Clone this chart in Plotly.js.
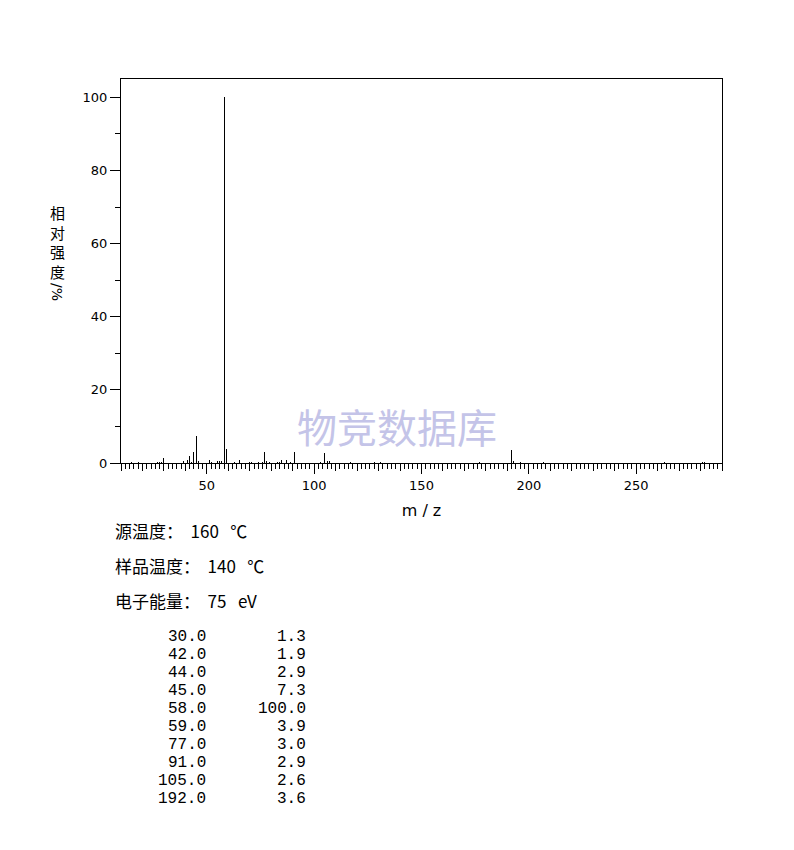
<!DOCTYPE html>
<html>
<head>
<meta charset="utf-8">
<script src="https://cdn.plot.ly/plotly-3.0.1.min.js"></script>
<style>html,body{margin:0;padding:0;background:#fff;}#chart{width:794px;height:850px;}
#chart path.js-line{shape-rendering:crispEdges;}</style>
</head>
<body>
<div id="chart"></div>
<script>
// Peak list (m/z and relative intensity %)
const peakMz = [15,18,27,28,29,30,39,41,42,43,44,45,46,51,52,55,56,57,58,59,63,65,70,71,74,76,77,78,79,83,84,85,87,89,91,103,105,106,107,117,128,131,177,192,193,196,207,263,281,282];
const peakInt = [0.3,0.3,0.3,0.3,0.3,1.3,0.5,0.7,1.9,0.4,2.9,7.3,0.5,0.7,0.4,0.5,0.5,0.5,100,3.9,0.3,0.7,0.3,0.4,0.3,0.3,3.0,0.5,0.3,0.3,0.4,0.8,0.8,0.3,2.9,0.3,2.6,0.5,0.5,0.3,0.3,0.3,0.3,3.6,0.5,0.3,0.3,0.3,0.3,0.3];
// Listed table
const tableMz = ["30.0","42.0","44.0","45.0","58.0","59.0","77.0","91.0","105.0","192.0"];
const tableInt = ["1.3","1.9","2.9","7.3","100.0","3.9","3.0","2.9","2.6","3.6"];
// Condition lines
const infoLines = ["源温度：&nbsp;&nbsp;160&nbsp;&nbsp;&nbsp;℃","样品温度：&nbsp;&nbsp;140&nbsp;&nbsp;&nbsp;℃","电子能量：&nbsp;&nbsp;75&nbsp;&nbsp;&nbsp;eV"];
const xLabelVals = [50,100,150,200,250];
const yTickVals = [0,20,40,60,80,100];

// Build stick segments
const sx = [], sy = [];
peakMz.forEach((m,i)=>{ sx.push(m,m,null); sy.push(0,peakInt[i],null); });

const W = 794, H = 850, L = 121, R = 722, T = 79, B = 463;
const px = x => (x - L) / (R - L);
const py = y => (B - y) / (B - T);

const annotations = [];
annotations.push({xref:'paper',yref:'paper',x:px(397),y:py(426),text:'物竞数据库',showarrow:false,
  font:{family:'Noto Sans CJK SC',size:40,color:'rgb(196,196,232)'},xanchor:'center',yanchor:'middle'});
annotations.push({xref:'paper',yref:'paper',x:px(57),y:py(242),text:'相<br>对<br>强<br>度',showarrow:false,
  font:{family:'Noto Sans CJK SC',size:15,color:'#000'},xanchor:'center',yanchor:'middle'});
annotations.push({xref:'paper',yref:'paper',x:px(57),y:py(292),text:'/%',textangle:90,showarrow:false,
  font:{family:'DejaVu Sans',size:14,color:'#000'},xanchor:'center',yanchor:'middle'});
infoLines.forEach((t,i)=>{
  annotations.push({xref:'paper',yref:'paper',x:px(113),y:py(530+35*i),text:t,showarrow:false,
    font:{family:'Noto Sans CJK SC',size:17,color:'#000'},xanchor:'left',yanchor:'middle'});
});
tableMz.forEach((t,i)=>{
  annotations.push({xref:'paper',yref:'paper',x:px(208),y:py(637+18*i),text:t,showarrow:false,
    font:{family:'Liberation Mono',size:16,color:'#000'},xanchor:'right',yanchor:'middle'});
  annotations.push({xref:'paper',yref:'paper',x:px(308),y:py(637+18*i),text:tableInt[i],showarrow:false,
    font:{family:'Liberation Mono',size:16,color:'#000'},xanchor:'right',yanchor:'middle'});
});

const data = [
  {x:sx,y:sy,type:'scatter',mode:'lines',line:{color:'#000',width:1},hoverinfo:'skip',showlegend:false},
  {x:[10],y:[0],xaxis:'x2',type:'scatter',mode:'markers',marker:{opacity:0},hoverinfo:'skip',showlegend:false}
];

const layout = {
  width:W,height:H,
  margin:{l:L,r:W-R,t:T,b:H-B},
  paper_bgcolor:'#fff',plot_bgcolor:'#fff',
  showlegend:false,
  xaxis:{range:[10,290],showgrid:false,zeroline:false,showline:true,mirror:true,linecolor:'#000',linewidth:1,
    tickmode:'linear',tick0:0,dtick:10,ticks:'outside',ticklen:7,tickcolor:'#000',showticklabels:false,
    minor:{dtick:2,tick0:0,ticks:'outside',ticklen:5,tickcolor:'#000',showgrid:false},
    title:{text:'m / z',font:{family:'DejaVu Sans',size:16,color:'#000'},standoff:34}},
  xaxis2:{range:[10,290],overlaying:'x',anchor:'y',side:'bottom',showgrid:false,zeroline:false,showline:false,
    tickmode:'array',tickvals:xLabelVals,ticktext:xLabelVals.map(String),ticks:'outside',ticklen:10,tickcolor:'#000',
    tickfont:{family:'DejaVu Sans',size:13,color:'#000'}},
  yaxis:{range:[0,105],showgrid:false,zeroline:false,showline:true,mirror:true,linecolor:'#000',linewidth:1,
    tickmode:'array',tickvals:yTickVals,ticks:'outside',ticklen:10,tickcolor:'#000',
    tickfont:{family:'DejaVu Sans',size:13,color:'#000'},
    minor:{tickvals:[10,30,50,70,90],ticks:'outside',ticklen:5,tickcolor:'#000',showgrid:false}},
  annotations:annotations
};

Plotly.newPlot('chart',data,layout,{staticPlot:true,displayModeBar:false});
</script>
</body>
</html>
